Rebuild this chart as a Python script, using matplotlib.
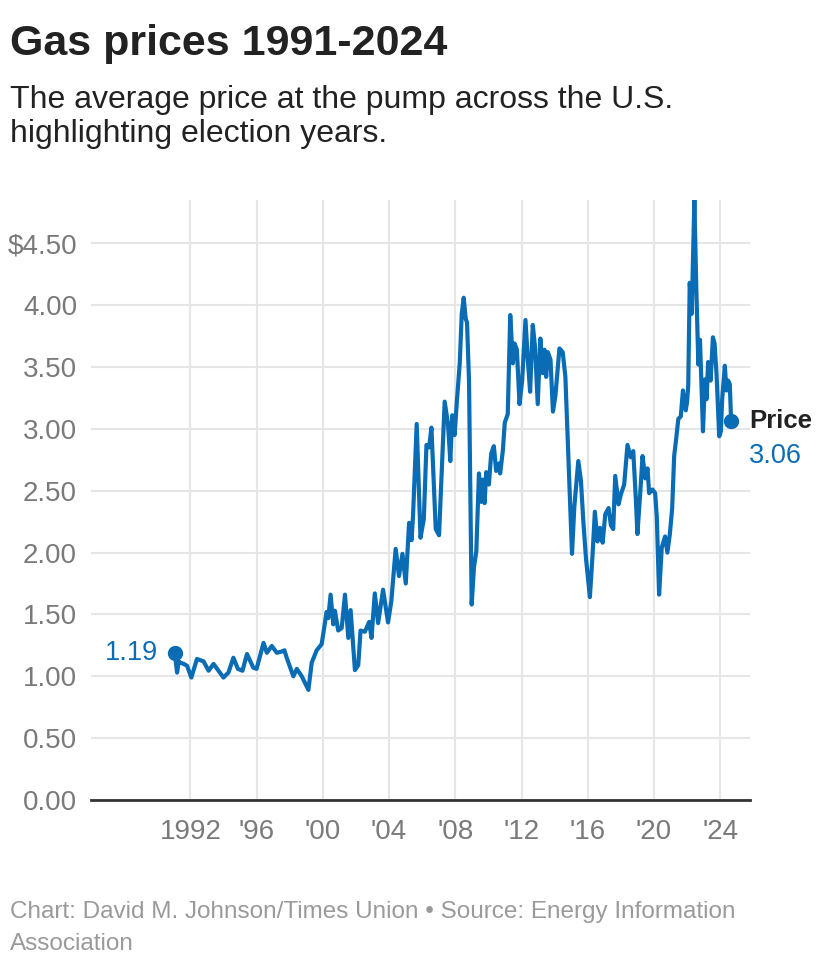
import matplotlib
matplotlib.use("Agg")
import matplotlib.pyplot as plt

# weekly US regular gas price (decimal year, $/gal)
years = [
    1991.05, 1991.2, 1991.3, 1991.4, 1991.6, 1991.8,
    1992.06, 1992.4, 1992.8,
    1993.1, 1993.4, 1993.7,
    1994.0, 1994.3, 1994.6, 1994.87,
    1995.15, 1995.42, 1995.8,
    1996.0, 1996.42, 1996.62, 1996.92,
    1997.22, 1997.52, 1997.68, 1997.82,
    1998.22, 1998.43, 1998.73,
    1999.13, 1999.33, 1999.63, 1999.93,
    2000.23, 2000.33, 2000.47, 2000.63, 2000.73, 2000.93,
    2001.14, 2001.34, 2001.54, 2001.68, 2001.94,
    2002.14, 2002.28, 2002.54, 2002.8, 2002.94,
    2003.14, 2003.34, 2003.64, 2003.94,
    2004.14, 2004.4, 2004.6, 2004.81,
    2005.01, 2005.21, 2005.36, 2005.45, 2005.67, 2005.9,
    2006.1, 2006.26, 2006.42, 2006.56, 2006.82,
    2007.02, 2007.36, 2007.56, 2007.7, 2007.82, 2007.96,
    2008.1, 2008.27, 2008.39, 2008.51, 2008.63, 2008.71, 2008.83, 2008.99,
    2009.13, 2009.27, 2009.43, 2009.57, 2009.67, 2009.77, 2009.87,
    2010.03, 2010.17, 2010.33, 2010.47, 2010.63, 2010.71, 2010.87, 2010.99,
    2011.17, 2011.32, 2011.48, 2011.58, 2011.72, 2011.88,
    2012.04, 2012.24, 2012.38, 2012.52, 2012.68, 2012.82, 2012.98,
    2013.14, 2013.28, 2013.39, 2013.49, 2013.59, 2013.75, 2013.9,
    2014.05, 2014.29, 2014.49, 2014.65,
    2015.05, 2015.19, 2015.43, 2015.59, 2015.73, 2015.89,
    2016.13, 2016.29, 2016.43, 2016.59, 2016.74, 2016.9,
    2017.06, 2017.26, 2017.4, 2017.54, 2017.66, 2017.86,
    2018.0, 2018.2, 2018.4, 2018.6, 2018.75, 2018.91,
    2019.0, 2019.17, 2019.31, 2019.47, 2019.61, 2019.71, 2019.91,
    2020.07, 2020.17, 2020.31, 2020.47, 2020.67, 2020.81, 2020.96,
    2021.1, 2021.22, 2021.35, 2021.47, 2021.62, 2021.75, 2021.92,
    2022.0, 2022.07, 2022.16, 2022.28, 2022.44, 2022.56, 2022.68, 2022.78, 2022.96,
    2023.08, 2023.18, 2023.27, 2023.42, 2023.56, 2023.66, 2023.78, 2023.94,
    2024.04, 2024.12, 2024.28, 2024.38, 2024.48, 2024.58, 2024.66,
]
prices = [
    1.19, 1.03, 1.12, 1.11, 1.10, 1.085,
    0.99, 1.14, 1.12,
    1.045, 1.10, 1.045,
    0.99, 1.03, 1.15, 1.06,
    1.045, 1.18, 1.07,
    1.06, 1.27, 1.19, 1.245,
    1.19, 1.20, 1.21, 1.15,
    1.00, 1.06, 1.00,
    0.89, 1.11, 1.21, 1.26,
    1.52, 1.47, 1.66, 1.42, 1.53, 1.37,
    1.39, 1.66, 1.31, 1.535, 1.05,
    1.09, 1.37, 1.36, 1.44, 1.31,
    1.67, 1.43, 1.70, 1.435,
    1.61, 2.03, 1.81, 1.99,
    1.75, 2.24, 2.10, 2.30, 3.04, 2.12,
    2.27, 2.87, 2.85, 3.01, 2.19,
    2.14, 3.22, 3.04, 2.74, 3.11, 2.95,
    3.23, 3.53, 3.93, 4.06, 3.89, 3.86, 3.39, 1.58,
    1.88, 2.01, 2.64, 2.41, 2.59, 2.40, 2.65,
    2.55, 2.80, 2.86, 2.66, 2.72, 2.64, 2.82, 3.05,
    3.12, 3.92, 3.53, 3.69, 3.64, 3.20,
    3.39, 3.88, 3.56, 3.30, 3.84, 3.66, 3.20,
    3.73, 3.45, 3.64, 3.42, 3.62, 3.56, 3.14,
    3.27, 3.65, 3.62, 3.42,
    1.99, 2.37, 2.74, 2.58, 2.26, 1.96,
    1.64, 1.98, 2.33, 2.09, 2.20, 2.08,
    2.31, 2.36, 2.22, 2.19, 2.62, 2.39,
    2.47, 2.55, 2.87, 2.77, 2.82, 2.42,
    2.15, 2.48, 2.78, 2.60, 2.68, 2.48, 2.51,
    2.48, 2.29, 1.66, 2.04, 2.13, 2.00, 2.15,
    2.36, 2.78, 2.93, 3.08, 3.10, 3.31, 3.15,
    3.22, 3.35, 4.18, 3.93, 4.85, 4.12, 3.52, 3.72, 2.98,
    3.40, 3.24, 3.54, 3.39, 3.74, 3.69, 3.44, 2.94,
    2.98, 3.24, 3.51, 3.31, 3.39, 3.36, 3.06,
]

tick_years = [1992, 1996, 2000, 2004, 2008, 2012, 2016, 2020, 2024]
tick_labels = ["1992", "'96", "'00", "'04", "'08", "'12", "'16", "'20", "'24"]
ytick_vals = [0, 0.5, 1.0, 1.5, 2.0, 2.5, 3.0, 3.5, 4.0, 4.5]
ytick_labels = ["0.00", "0.50", "1.00", "1.50", "2.00", "2.50", "3.00", "3.50", "4.00", "$4.50"]

blue = "#0a6cb5"
gray = "#7a7a7a"
plt.rcParams["font.family"] = ["Liberation Sans", "DejaVu Sans"]

fig = plt.figure(figsize=(8.2, 9.72), dpi=100)
ax = fig.add_axes([91 / 820, 172 / 972, 659 / 820, 600 / 972])

ax.plot(years, prices, color=blue, lw=3.0, solid_joinstyle="round", zorder=3)
ax.plot([years[0], years[-1]], [prices[0], prices[-1]], "o", color=blue, ms=10, zorder=4)

ax.set_xlim(1986.0, 2025.8)
ax.set_ylim(0, 4.85)
ax.set_xticks(tick_years)
ax.set_xticklabels(tick_labels)
ax.set_yticks(ytick_vals)
ax.set_yticklabels(ytick_labels)
ax.tick_params(length=0, labelsize=20, labelcolor=gray)
ax.tick_params(axis="x", pad=14)
ax.tick_params(axis="y", pad=10)
ax.grid(True, color="#e6e6e6", lw=1.5, zorder=0)
for s in ["top", "right", "left"]:
    ax.spines[s].set_visible(False)
ax.spines["bottom"].set_color("#333333")
ax.spines["bottom"].set_linewidth(2)
ax.spines["bottom"].set_zorder(5)

# end labels
ax.annotate(f"{prices[0]:.2f}", (years[0], prices[0]), xytext=(-12, 0),
            textcoords="offset points", ha="right", va="center",
            color=blue, fontsize=19.5)
ax.annotate("Price", (years[-1], prices[-1]), xytext=(13, 0),
            textcoords="offset points", ha="left", va="center",
            color="#222222", fontsize=18.5, fontweight="bold",
            annotation_clip=False)
ax.annotate(f"{prices[-1]:.2f}", (years[-1], prices[-1]), xytext=(13, -25),
            textcoords="offset points", ha="left", va="center",
            color=blue, fontsize=19.5, annotation_clip=False)

fig.text(10 / 820, 1 - 55 / 972, "Gas prices 1991-2024", fontsize=31,
         fontweight="bold", color="#222222", va="baseline")
fig.text(10 / 820, 1 - 108 / 972, "The average price at the pump across the U.S.",
         fontsize=23, color="#222222", va="baseline")
fig.text(10 / 820, 1 - 142 / 972, "highlighting election years.",
         fontsize=23, color="#222222", va="baseline")

fig.text(10 / 820, 1 - 918 / 972,
         "Chart: David M. Johnson/Times Union \u2022 Source: Energy Information",
         fontsize=17.5, color="#9a9a9a", va="baseline")
fig.text(10 / 820, 1 - 950 / 972, "Association",
         fontsize=17.5, color="#9a9a9a", va="baseline")

fig.savefig("out.png", dpi=100)
